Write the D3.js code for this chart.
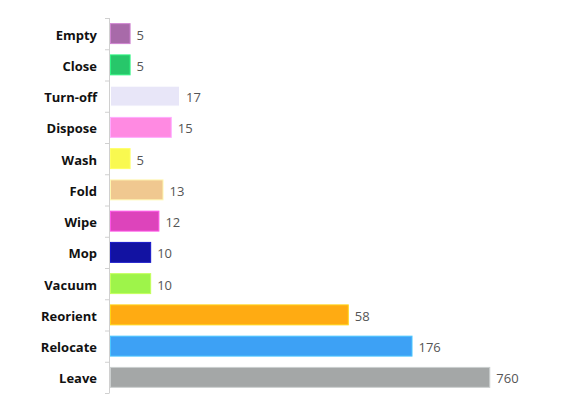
<!DOCTYPE html>
<html>
<head>
<meta charset="utf-8">
<script src="https://cdn.jsdelivr.net/npm/d3@7"></script>
<style>
  body { margin: 0; background: #fff; }
</style>
</head>
<body>
<svg id="chart"></svg>
<script>
// data
var categories = ['Empty', 'Close', 'Turn-off', 'Dispose', 'Wash', 'Fold', 'Wipe', 'Mop', 'Vacuum', 'Reorient', 'Relocate', 'Leave']
var values = [5, 5, 17, 15, 5, 13, 12, 10, 10, 58, 176, 760]
var colors = ['#a86aa9', '#27c76a', '#e8e6f8', '#ff8ae2', '#f9f950', '#f0c890', '#dd44bb', '#1212a2', '#9ef44a', '#ffab12', '#3da1f5', '#a4a7a7']
// the x scale is stretched at the low end, compressed past 60
var xBreaks = [0, 60, 200, 800]

var width = 586, height = 413
var margin = ({top: 18, right: 96, bottom: 20, left: 110})
var font = 'Open Sans'

var svg = d3.select('#chart')
    .attr('width', width)
    .attr('height', height)

var data = categories.map((c, i) => ({cat: c, value: values[i], color: colors[i]}))

var scaleY = d3.scaleBand()
    .domain(categories)
    .range([margin.top, height - margin.bottom])
    .paddingInner(0.33)
    .paddingOuter(0.165)

var scaleX = d3.scaleLinear()
    .domain(xBreaks)
    .range([margin.left, margin.left + 247, margin.left + 314, margin.left + 385])

// axis line + ticks between categories
var axisG = svg.append('g')
axisG.append('line')
    .attr('x1', margin.left - 0.5).attr('x2', margin.left - 0.5)
    .attr('y1', margin.top).attr('y2', height - margin.bottom)
    .attr('stroke', '#d0d0d0')

var step = scaleY.step()
axisG.selectAll('line.tick')
    .data(d3.range(categories.length + 1))
    .enter().append('line')
    .attr('class', 'tick')
    .attr('x1', margin.left - 5).attr('x2', margin.left - 0.5)
    .attr('y1', d => margin.top + d * step + 0.5)
    .attr('y2', d => margin.top + d * step + 0.5)
    .attr('stroke', '#d0d0d0')

axisG.selectAll('text')
    .data(categories)
    .enter().append('text')
    .attr('x', margin.left - 13)
    .attr('y', d => scaleY(d) + scaleY.bandwidth() / 2 + 1.5)
    .attr('dy', '0.35em')
    .attr('text-anchor', 'end')
    .style('font-family', font)
    .style('font-size', '13px')
    .style('font-weight', 'bold')
    .attr('fill', '#111')
    .text(d => d)

var barg = svg.append('g')

barg.selectAll('rect')
    .data(data)
    .enter().append('rect')
    .attr('x', scaleX(0) + 0.5)
    .attr('y', d => scaleY(d.cat) + 0.5)
    .attr('width', d => scaleX(d.value) - scaleX(0) - 1)
    .attr('height', scaleY.bandwidth() - 1)
    .attr('fill', d => d.color)
    .attr('stroke', d => d3.color(d.color).brighter(0.6))
    .attr('stroke-width', 1)

barg.selectAll('text')
    .data(data)
    .enter().append('text')
    .attr('x', d => scaleX(d.value) + 6)
    .attr('y', d => scaleY(d.cat) + scaleY.bandwidth() / 2 + 1.5)
    .attr('dy', '0.35em')
    .style('font-family', font)
    .style('font-size', '13px')
    .attr('fill', '#555')
    .text(d => d.value)
</script>
</body>
</html>
